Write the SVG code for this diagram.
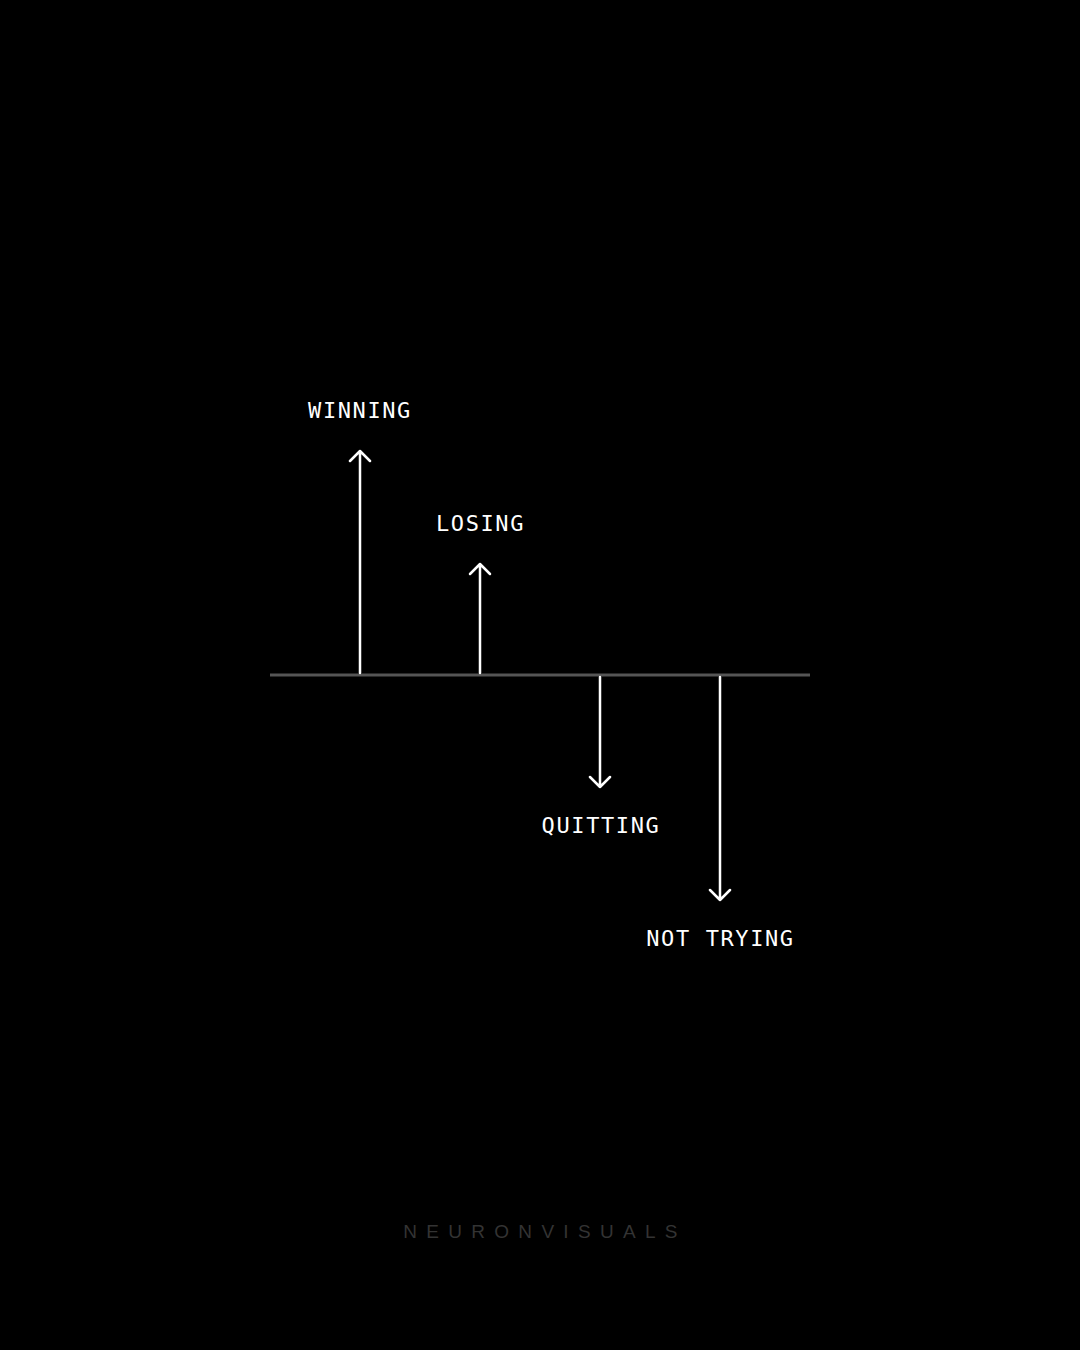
<svg xmlns="http://www.w3.org/2000/svg" width="1080" height="1350" viewBox="0 0 1080 1350">
<style>
.lbl{font-family:"DejaVu Sans Mono","Liberation Mono",monospace;font-size:22px;fill:#ffffff;text-anchor:middle;letter-spacing:1.6px}
.arr{stroke:#ffffff;stroke-width:2.5;fill:none;stroke-linecap:round;stroke-linejoin:round}
.axis{stroke:#555555;stroke-width:3}
.wm{font-family:"Liberation Sans",Arial,sans-serif;font-size:19px;fill:#333333;text-anchor:middle;letter-spacing:9.3px}
</style>
<rect width="1080" height="1350" fill="#000000"/>
<g id="axis"><line class="axis" x1="270" y1="675" x2="810" y2="675"/></g>
<g id="connectors">
<path class="arr" d="M360 673V451M350 461L360 451L370 461"/>
<path class="arr" d="M480 673V564M470 574L480 564L490 574"/>
<path class="arr" d="M600 677V787M590 777L600 787L610 777"/>
<path class="arr" d="M720 677V900M710 890L720 900L730 890"/>
</g>
<g id="winning"><text class="lbl" x="360" y="418">WINNING</text></g>
<g id="losing"><text class="lbl" x="480.5" y="531">LOSING</text></g>
<g id="quitting"><text class="lbl" x="601" y="833">QUITTING</text></g>
<g id="not-trying"><text class="lbl" x="720.5" y="946">NOT TRYING</text></g>
<g id="watermark"><text class="wm" x="545" y="1238">NEURONVISUALS</text></g>
</svg>
